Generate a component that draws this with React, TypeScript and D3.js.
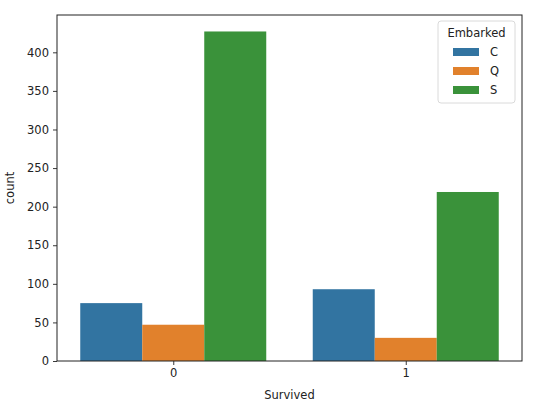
import { useEffect, useRef } from 'react';
import * as d3 from 'd3';

// Count of passengers by survival and port of embarkation
const survived = ['0', '1'];
const ports = ['C', 'Q', 'S'];
const countsC = [75, 93];
const countsQ = [47, 30];
const countsS = [427, 219];
const yTicks = [0, 50, 100, 150, 200, 250, 300, 350, 400];
const colors = ['#3274a1', '#e1812c', '#3a923a'];

export default function App() {
  const svgRef = useRef<SVGSVGElement | null>(null);

  useEffect(() => {
    if (!svgRef.current) return;
    document.body.style.margin = '0';
    const root = d3.select(svgRef.current);
    root.selectAll('*').remove();

    const W = 535;
    const H = 406;
    const margin = { top: 15, right: 13, bottom: 45, left: 57 };
    const width = W - margin.left - margin.right;
    const height = H - margin.top - margin.bottom;
    const font = 'DejaVu Sans, sans-serif';
    const fs = 11.5;

    const series = [countsC, countsQ, countsS];
    const maxVal = d3.max(series.flat()) as number;

    const x = d3.scaleLinear().domain([-0.5, 1.5]).range([0, width]);
    const y = d3.scaleLinear().domain([0, maxVal * 1.05]).range([height, 0]);

    const svg = root
      .attr('width', W)
      .attr('height', H)
      .style('display', 'block')
      .append('g')
      .attr('transform', `translate(${margin.left},${margin.top})`);

    // Bars
    const barW = 0.8 / ports.length;
    series.forEach((vals, j) => {
      svg.selectAll(`.bar-${j}`)
        .data(vals)
        .enter()
        .append('rect')
        .attr('x', (_, i) => x(i - 0.4 + j * barW))
        .attr('width', x(barW) - x(0))
        .attr('y', d => y(d))
        .attr('height', d => y(0) - y(d))
        .attr('fill', colors[j]);
    });

    // Axes
    const xAxis = svg.append('g')
      .attr('transform', `translate(0,${height})`)
      .call(d3.axisBottom(x).tickValues([0, 1]).tickFormat((d, i) => survived[i]).tickSize(4).tickPadding(4));
    const yAxis = svg.append('g')
      .call(d3.axisLeft(y).tickValues(yTicks).tickSize(4).tickPadding(4));
    [xAxis, yAxis].forEach(a => {
      a.select('.domain').remove();
      a.selectAll('text').attr('font-family', font).attr('font-size', fs).attr('fill', '#222');
      a.selectAll('line').attr('stroke', '#222').attr('stroke-width', 0.9);
    });

    // Frame
    svg.append('rect')
      .attr('width', width)
      .attr('height', height)
      .attr('fill', 'none')
      .attr('stroke', '#222')
      .attr('stroke-width', 1);

    // Axis labels
    svg.append('text')
      .attr('x', width / 2)
      .attr('y', height + 38)
      .attr('text-anchor', 'middle')
      .attr('font-family', font)
      .attr('font-size', fs)
      .attr('fill', '#222')
      .text('Survived');
    svg.append('text')
      .attr('transform', 'rotate(-90)')
      .attr('x', -height / 2)
      .attr('y', -43)
      .attr('text-anchor', 'middle')
      .attr('font-family', font)
      .attr('font-size', fs)
      .attr('fill', '#222')
      .text('count');

    // Legend
    const lg = svg.append('g').attr('transform', `translate(${438 - margin.left},${21 - margin.top})`);
    lg.append('rect')
      .attr('width', 77)
      .attr('height', 82)
      .attr('rx', 3)
      .attr('fill', 'white')
      .attr('fill-opacity', 0.8)
      .attr('stroke', '#d0d0d0')
      .attr('stroke-width', 0.8);
    lg.append('text')
      .attr('x', 38.5)
      .attr('y', 16)
      .attr('text-anchor', 'middle')
      .attr('font-family', font)
      .attr('font-size', fs)
      .attr('fill', '#222')
      .text('Embarked');
    ports.forEach((p, j) => {
      const yy = 31 + j * 19;
      lg.append('rect')
        .attr('x', 15)
        .attr('y', yy - 4)
        .attr('width', 26)
        .attr('height', 8)
        .attr('fill', colors[j]);
      lg.append('text')
        .attr('x', 52)
        .attr('y', yy + 4)
        .attr('font-family', font)
        .attr('font-size', fs)
        .attr('fill', '#222')
        .text(p);
    });
  }, []);

  return <svg ref={svgRef} />;
}
